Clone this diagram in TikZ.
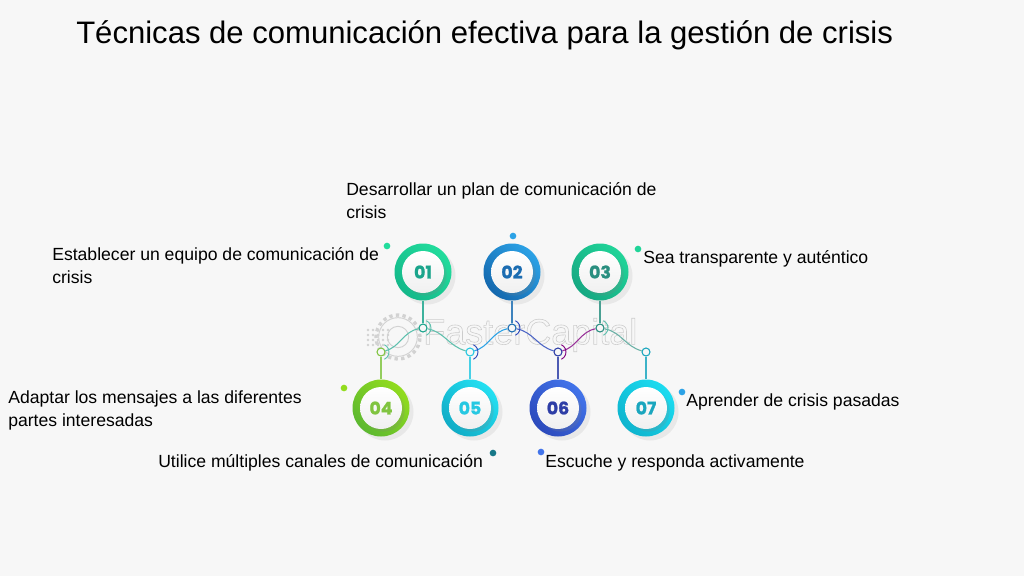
\documentclass[tikz,border=0pt]{standalone}
\usepackage{fontspec}
\setmainfont{Liberation Sans}
\newfontfamily\numfont[BoldFeatures={FakeBold=1.2}]{Poppins}
\newfontfamily\markfont[FakeBold=1.6]{Liberation Sans}
\usetikzlibrary{shadows,positioning}
\definecolor{paper}{HTML}{F7F7F7}
\definecolor{wmark}{HTML}{D2D2D2}
% rings: light side, dark side, digits
\definecolor{r1L}{HTML}{22DC9C}\definecolor{r1D}{HTML}{14B88A}\definecolor{r1T}{HTML}{1BA58C}
\definecolor{r2L}{HTML}{2CA2E6}\definecolor{r2D}{HTML}{1468AE}\definecolor{r2T}{HTML}{1C6DB2}
\definecolor{r3L}{HTML}{20D498}\definecolor{r3D}{HTML}{16A882}\definecolor{r3T}{HTML}{2A8F80}
\definecolor{r4L}{HTML}{92DC1E}\definecolor{r4D}{HTML}{5CB830}\definecolor{r4T}{HTML}{80C440}
\definecolor{r5L}{HTML}{24E0F2}\definecolor{r5D}{HTML}{10ACC6}\definecolor{r5T}{HTML}{26C8E2}
\definecolor{r6L}{HTML}{4274EA}\definecolor{r6D}{HTML}{2C4ABC}\definecolor{r6T}{HTML}{2E3EA6}
\definecolor{r7L}{HTML}{1CDCF0}\definecolor{r7D}{HTML}{0EB4CE}\definecolor{r7T}{HTML}{1AA6BE}
\tikzstyle{ring}=[circle,minimum size=42.75pt,inner sep=0pt]
\tikzstyle{numcap}=[circle,minimum size=31.5pt,inner sep=0pt,top color=white,bottom color=black!6,font=\numfont\bfseries\fontsize{13}{14}\selectfont]
\tikzstyle{junction}=[circle,draw,fill=paper,line width=.8pt,minimum size=6pt,inner sep=0pt]
\tikzstyle{spot}=[circle,minimum size=5pt,inner sep=0pt]
\tikzstyle{lbl}=[anchor=north west,inner sep=0pt,align=left,font=\fontsize{13.2}{17.6}\selectfont]
\begin{document}
\begin{tikzpicture}[x=.75pt,y=-.75pt]
    \useasboundingbox (0,0) rectangle (1024,576);
    \fill[paper] (0,0) rectangle (1024,576);
    \node [anchor=base west,inner sep=0pt,font=\fontsize{23.3}{26}\selectfont] (title) at (76,43) {Técnicas de comunicación efectiva para la gestión de crisis};
    % watermark
    \node [circle,draw=wmark,line width=.7pt,minimum size=16pt,inner sep=0pt] (gearhub) at (398,337) {};
    \node [circle,draw=wmark,line width=.7pt,minimum size=29pt,inner sep=0pt] (gear) at (398,337) {};
    \node [circle,draw=wmark,line width=2.5pt,dash pattern=on 2.5pt off 2.5pt,minimum size=33pt,inner sep=0pt] (gearteeth) at (398,337) {};
    \foreach \i in {0,...,4}
      \foreach \j in {0,...,3}
        \fill[wmark] (368+5*\i,330+5*\j) circle (1pt);
    \node [anchor=west,inner sep=0pt,text=paper,font=\markfont\fontsize{27}{30}\selectfont] (mark) at (423,335) {\special{pdf:code 0.80 0.80 0.80 RG}FasterCapital};
    % junctions
    \foreach \n/\x/\y in {1/423/328,2/512/328,3/600/328,4/381/352,5/470/352,6/558/352,7/646/352}
      \node [junction,draw=r\n T] (j\n) at (\x,\y) {};
    % the wave
    \draw [r1T!70,line width=.8pt] (j4) to[out=15,in=190] (j1);
    \draw [r1T!70,line width=.8pt] (j1) to[out=-10,in=165] (j5);
    \draw [r2L,line width=.8pt] (j5) to[out=15,in=190] (j2);
    \draw [r6D!85,line width=.8pt] (j2) to[out=-10,in=165] (j6);
    \draw [violet!80,line width=.8pt] (j6) to[out=15,in=190] (j3);
    \draw [r3T!70,line width=.8pt] (j3) to[out=-10,in=165] (j7);
    % small arcs next to the junctions
    \foreach \n/\c in {1/r1T!70,2/r6D,3/r1T!70,4/r1T!70,5/r6D,6/violet}
      \draw [\c,line width=.7pt] ([shift={(-65:6pt)}]j\n.center) arc[start angle=-65,end angle=65,radius=6pt];
    % badges
    \foreach \n/\x/\y/\t in {1/423/272/01,2/512/272/02,3/600/272/03,4/381/408/04,5/470/408/05,6/558/408/06,7/646/408/07} {
      \node [ring,left color=r\n L,right color=r\n D,shading angle=-45,drop shadow={shadow xshift=3pt,shadow yshift=-3pt,opacity=.12}] (b\n) at (\x,\y) {};
      \node [numcap,text=r\n T,drop shadow={shadow xshift=2pt,shadow yshift=-2pt,opacity=.2}] (c\n) at (\x,\y) {\t};
    }
    \foreach \n in {1,2,3,4,5,6,7}
      \draw [r\n T!85,line width=.9pt] (b\n) -- (j\n);
    % dots
    \node [spot,fill=r1L] (s1) at (387,246) {};
    \node [spot,fill=r2L] (s2) at (513,236) {};
    \node [spot,fill=r3L] (s3) at (638,249) {};
    \node [spot,fill=r4L] (s4) at (344,388) {};
    \node [spot,fill=r5T!60!black] (s5) at (493,453) {};
    \node [spot,fill=r6L] (s6) at (541,452) {};
    \node [spot,fill=r2L] (s7) at (682,392) {};
    % labels
    \node [lbl] (t1) at (52,247) {Establecer un equipo de comunicación de\\crisis};
    \node [lbl] (t2) at (346,182) {Desarrollar un plan de comunicación de\\crisis};
    \node [lbl] (t3) at (643,250) {Sea transparente y auténtico};
    \node [lbl] (t4) at (8,390) {Adaptar los mensajes a las diferentes\\partes interesadas};
    \node [lbl] (t5) at (158,454) {Utilice múltiples canales de comunicación};
    \node [lbl] (t6) at (545,454) {Escuche y responda activamente};
    \node [lbl] (t7) at (686,393) {Aprender de crisis pasadas};
\end{tikzpicture}
\end{document}
